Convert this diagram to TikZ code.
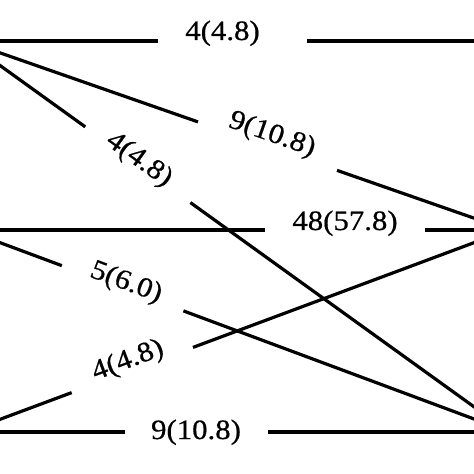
\documentclass[tikz,border=0pt]{standalone}
\usepackage{fontspec}
\setmainfont{Liberation Serif}[FakeStretch=1.1,FakeBold=0.6]
\begin{document}
\begin{tikzpicture}[x=1bp,y=-1bp,
  edge/.style={line width=3.2bp},
  lbl/.style={font=\fontsize{28bp}{31bp}\selectfont, inner sep=0pt}]
\useasboundingbox (0,0) rectangle (474,474);
\clip (0,0) rectangle (474,474);
% end points (just outside the picture)
\coordinate (A1) at (-34,41);
\coordinate (A2) at (-34,230);
\coordinate (A3) at (-34,432);
\coordinate (B1) at (508,41);
\coordinate (B2) at (508,230);
\coordinate (B3) at (509,432);
% labels
\node[lbl, anchor=base] (l1) at (222.5,40) {4(4.8)};
\node[lbl, rotate=-19.2] (l2) at (272,135) {9(10.8)};
\node[lbl, rotate=-35.8] (l3) at (139,160) {4(4.8)};
\node[lbl, anchor=base] (l4) at (345,230) {48(57.8)};
\node[lbl, rotate=-20.4] (l5) at (126,283) {5(6.0)};
\node[lbl, rotate=20.4] (l6) at (128,361) {4(4.8)};
\node[lbl, anchor=base] (l7) at (196,439) {9(10.8)};
% gap ends along each connector
\path (A1) -- (B1) coordinate[pos=0.354] (g1a) coordinate[pos=0.629] (g1b);
\path (A1) -- (B2) coordinate[pos=0.428] (g2a) coordinate[pos=0.6845] (g2b);
\path (A1) -- (B3) coordinate[pos=0.2196] (g3a) coordinate[pos=0.4133] (g3b);
\path (A2) -- (B2) coordinate[pos=0.5517] (g4a) coordinate[pos=0.8469] (g4b);
\path (A2) -- (B3) coordinate[pos=0.1766] (g5a) coordinate[pos=0.4004] (g5b);
\path (A3) -- (B2) coordinate[pos=0.195] (g6a) coordinate[pos=0.4188] (g6b);
\path (A3) -- (B3) coordinate[pos=0.2934] (g7a) coordinate[pos=0.557] (g7b);
% connectors
\draw[edge] (A1) -- (g1a) (g1b) -- (B1);
\draw[edge] (A1) -- (g2a) (g2b) -- (B2);
\draw[edge] (A1) -- (g3a) (g3b) -- (B3);
\draw[edge] (A2) -- (g4a) (g4b) -- (B2);
\draw[edge] (A2) -- (g5a) (g5b) -- (B3);
\draw[edge] (A3) -- (g6a) (g6b) -- (B2);
\draw[edge] (A3) -- (g7a) (g7b) -- (B3);
\end{tikzpicture}
\end{document}
